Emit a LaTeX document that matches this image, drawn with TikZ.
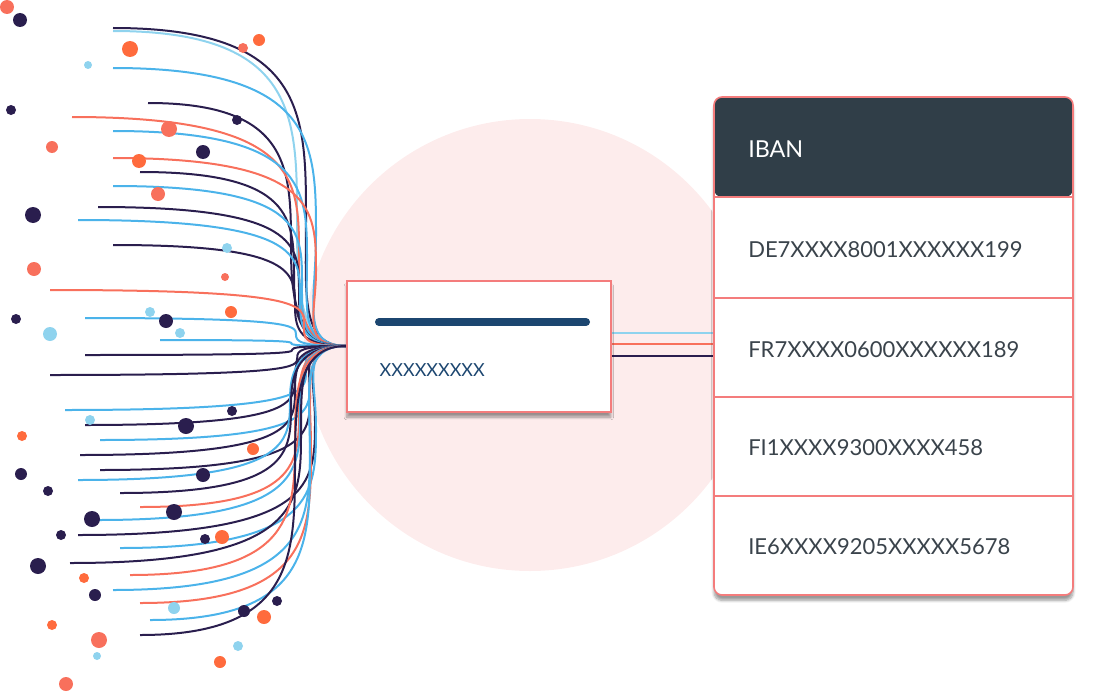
\documentclass[tikz,border=0pt]{standalone}
\usepackage{fontspec}
\setmainfont{Lato}
\usetikzlibrary{shadows.blur}
\definecolor{dk}{HTML}{2A1E4E}
\definecolor{rd}{HTML}{F8705C}
\definecolor{og}{HTML}{FF6B3D}
\definecolor{lb}{HTML}{8FD3EE}
\definecolor{bl}{HTML}{4BB3EA}
\definecolor{pk}{HTML}{FDECEC}
\definecolor{bd}{HTML}{F47C7C}
\definecolor{hd}{HTML}{303E48}
\definecolor{nv}{HTML}{1C4670}
\definecolor{tx}{HTML}{3A434B}
\tikzset{
 fib/.style={line width=1.5pt},
 cell/.style={anchor=west,inner sep=0pt,font=\fontsize{16.5}{18}\selectfont,text=tx},
 sep/.style={bd,line width=1.2pt}
}
\begin{document}
\begin{tikzpicture}[x=0.75pt,y=-0.75pt]
\useasboundingbox (0,0) rectangle (1098,692);
\fill[pk] (530,345) circle (226);
% fibres
\coordinate (hub) at (346,346);
\foreach \x/\y/\c in {113/28/dk,113/31/lb,113/68/bl,148/103/dk,72/117/rd,113/131/bl,113/158/rd,140/172/dk,113/186/bl,98/207/dk,78/220/bl,113/245/dk,50/290/rd,85/318/bl,160/340/bl,
 85/355/dk,50/375/dk,65/410/bl,85/425/dk,100/440/bl,80/455/dk,100/470/dk,78/480/bl,120/493/dk,140/507/rd,98/520/bl,78/535/dk,120/548/bl,70/563/dk,130/575/rd,113/590/bl,140/603/rd,150/620/bl,140/635/dk}{
 \pgfmathsetmacro\mx{min(290+mod(\y*7,30), 290+abs(\y-346)*0.25)}
 \pgfmathsetmacro\my{346+(\y-346)*0.4}
 \pgfmathsetmacro\ca{\y+(\my-\y)*0.45}
 \pgfmathsetmacro\cb{\my+(346-\my)*0.6}
 \draw[fib,\c] (\x,\y) .. controls (\mx,\y) and (\mx,\ca) .. (\mx,\my) .. controls (\mx,\cb) and (300,346) .. (hub);
}
% dots
\foreach \x/\y/\r/\c in {7/7/7/rd,20/20/7/dk,130/49/8/og,88/65/4/lb,243/48/5/rd,259/40/6/og,11/110/5/dk,52/147/6/rd,169/129/8/rd,237/120/5/dk,203/152/7/dk,139/161/7/og,158/194/7/rd,33/215/8/dk,227/248/5/lb,34/269/7/rd,225/277/4/rd,16/319/5/dk,50/334/7/lb,150/312/5/lb,166/321/7/dk,180/333/5/lb,231/312/6/og,22/436/5/og,90/420/5/lb,232/411/5/dk,186/426/8/dk,253/449/6/og,21/474/6/dk,48/491/5/dk,203/475/7/dk,92/519/8/dk,61/535/5/dk,174/512/8/dk,222/537/7/og,205/539/5/dk,38/566/8/dk,84/578/5/og,95/595/6/dk,174/608/6/lb,244/611/6/dk,264/617/7/og,277/601/5/dk,52/625/5/og,99/640/8/rd,97/656/4/lb,238/646/5/lb,220/662/6/og,66/684/7/rd}{
 \fill[\c] (\x,\y) circle (\r);
}
% connectors to table
\draw[fib,lb] (610,333) -- (714,333);
\draw[fib,rd] (610,344) -- (714,344);
\draw[fib,dk] (610,356) -- (714,356);
% centre box
\node (box) [draw=bd,line width=1.2pt,fill=white,blur shadow={shadow blur steps=8,shadow xshift=0pt,shadow yshift=-4pt},minimum width=264*0.75pt,minimum height=131*0.75pt,anchor=north west,inner sep=0pt] at (346,280) {};
\draw[nv,line width=6pt,line cap=round] (379,322) -- (586,322);
\node (xs) [anchor=west,text=nv,font=\fontsize{13.5}{16}\selectfont] at (375,370) {XXXXXXXXX};
% table
\fill[white,blur shadow={shadow blur steps=8,shadow xshift=0pt,shadow yshift=-4pt},rounded corners=6pt] (714,97) rectangle (1073,595);
\fill[hd,rounded corners=6pt] (714,197) -- (714,97) -- (1073,97) -- (1073,197) -- cycle;
\node (hdr) [cell,text=white,font=\fontsize{17.5}{20}\selectfont] at (748,149) {IBAN};
\node (r1) [cell] at (748,250) {DE7XXXX8001XXXXXX199};
\node (r2) [cell] at (748,350) {FR7XXXX0600XXXXXX189};
\node (r3) [cell] at (748,448) {FI1XXXX9300XXXX458};
\node (r4) [cell] at (748,547) {IE6XXXX9205XXXXX5678};
\draw[sep] (714,197) -- (1073,197);
\draw[sep] (714,298) -- (1073,298);
\draw[sep] (714,397) -- (1073,397);
\draw[sep] (714,496) -- (1073,496);
\draw[bd,line width=1.2pt,rounded corners=6pt] (714,97) rectangle (1073,595);
\end{tikzpicture}
\end{document}
